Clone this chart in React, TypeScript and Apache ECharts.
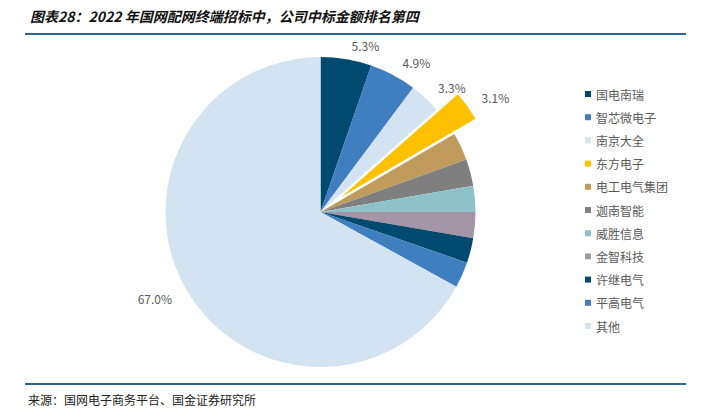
import React, { useEffect, useRef } from "react";
import * as echarts from "echarts";

const categories = ["国电南瑞", "智芯微电子", "南京大全", "东方电子", "电工电气集团", "迦南智能", "威胜信息", "金智科技", "许继电气", "平高电气", "其他"];
const shares = [5.3, 4.9, 3.3, 3.1, 2.9, 2.8, 2.7, 2.7, 2.6, 2.7, 67.0];
const colors = ["#004A70", "#3F7EBF", "#D3E3F2", "#FFC000", "#C09B5C", "#7F7F7F", "#8FC2C8", "#A496A6", "#004A70", "#3F7EBF", "#D3E3F2"];
const labeled = ["国电南瑞", "智芯微电子", "南京大全", "东方电子", "其他"];
const selectedName = "东方电子";
const titleText = "图表28：2022 年国网配网终端招标中，公司中标金额排名第四";
const sourceText = "来源：国网电子商务平台、国金证券研究所";

export default function App() {
  const ref = useRef<HTMLDivElement>(null);
  useEffect(() => {
    document.body.style.margin = "0";
    const chart = echarts.init(ref.current!, null, { renderer: "svg" });
    const font = "'Noto Sans CJK SC', 'Noto Sans', sans-serif";
    chart.setOption({
      animation: false,
      textStyle: { fontFamily: font },
      legend: {
        orient: "vertical",
        left: 580,
        top: 83,
        itemWidth: 6,
        itemHeight: 6,
        itemGap: 11.2,
        itemTextGap: 4,
        icon: "rect",
        selectedMode: false,
        textStyle: { color: "#595959", fontSize: 12, fontFamily: font },
        data: categories,
      },
      graphic: [
        {
          type: "text",
          left: 30,
          top: 9,
          style: { text: titleText, fontSize: 14, fontWeight: "bold", fontStyle: "italic", fill: "#111", fontFamily: font },
        },
        { type: "line", shape: { x1: 25, y1: 34, x2: 686, y2: 34 }, style: { stroke: "#2F6594", lineWidth: 2 } },
        { type: "line", shape: { x1: 25, y1: 384, x2: 686, y2: 384 }, style: { stroke: "#2F6594", lineWidth: 2 } },
        {
          type: "text",
          left: 28,
          top: 393,
          style: { text: sourceText, fontSize: 12, fill: "#222", fontFamily: font },
        },
      ],
      series: [
        {
          type: "pie",
          center: [320.5, 212],
          radius: 155,
          startAngle: 90,
          clockwise: true,
          selectedMode: "single",
          selectedOffset: 26,
          avoidLabelOverlap: false,
          emphasis: { disabled: true },
          itemStyle: { borderWidth: 0 },
          labelLine: { show: false, length: 14, length2: 0 },
          label: {
            position: "outside",
            color: "#595959",
            fontSize: 12,
            fontFamily: font,
            distanceToLabelLine: 3,
            formatter: (p: any) => p.value.toFixed(1) + "%",
          },
          data: categories.map((name, i) => ({
            name,
            value: shares[i],
            selected: name === selectedName,
            itemStyle: { color: colors[i] },
            label: { show: labeled.includes(name) },
          })),
        },
      ],
    });
    return () => chart.dispose();
  }, []);
  return <div ref={ref} style={{ width: 703, height: 411 }} />;
}
